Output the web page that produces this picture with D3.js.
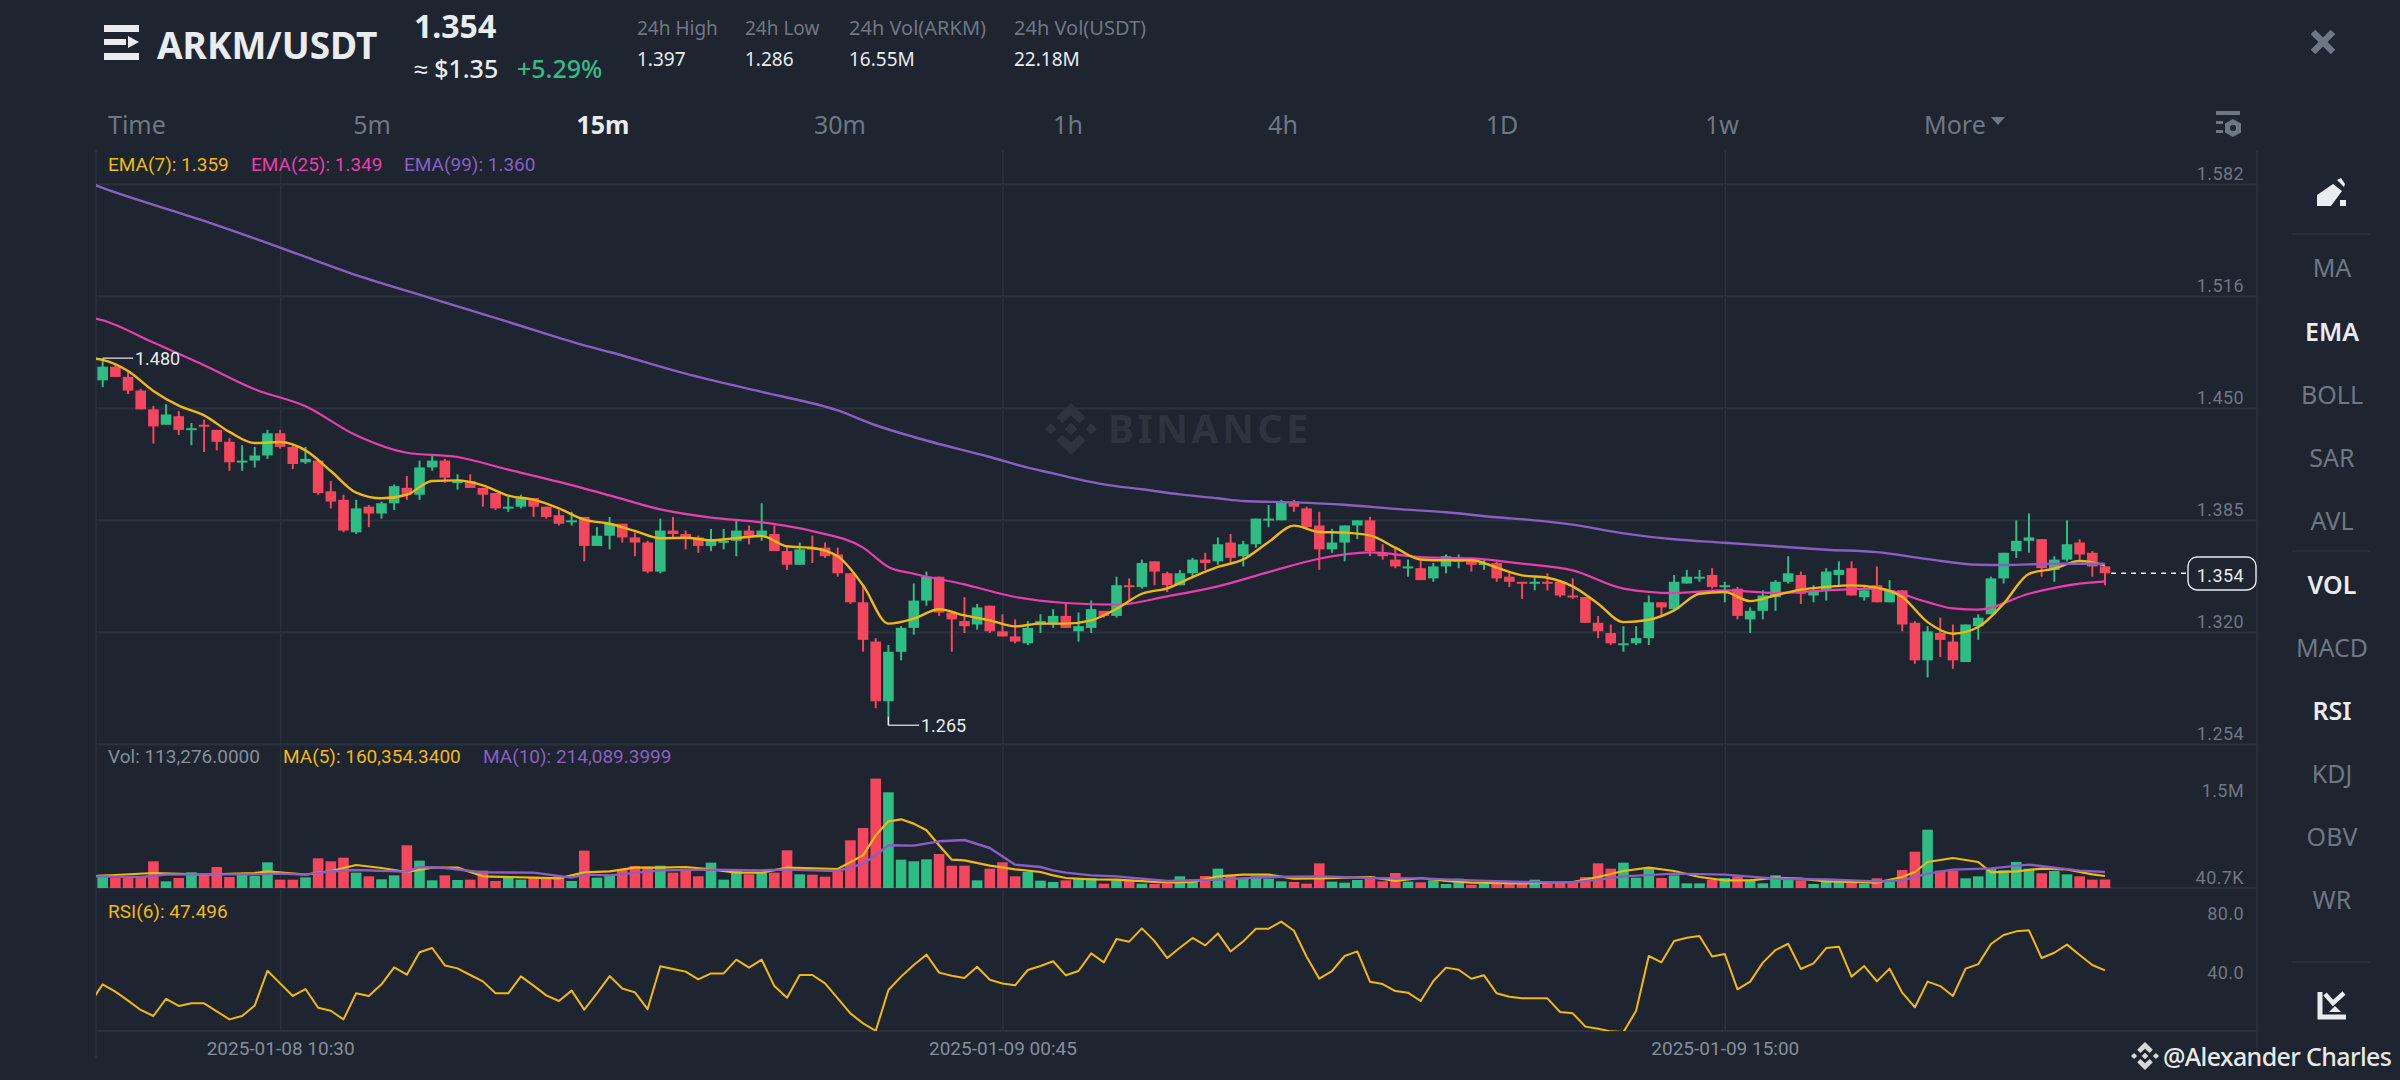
<!DOCTYPE html>
<html>
<head>
<meta charset="utf-8">
<title>ARKM/USDT</title>
<script src="https://cdn.jsdelivr.net/npm/d3@7"></script>
<style>
  body { margin: 0; background: #1E2530; }
  svg { display: block; }
  text { font-family: Roboto, sans-serif; }
  .ui { font-family: "Noto Sans", sans-serif; }
  .domain { display: none; }
</style>
</head>
<body>
<svg id="chart" width="2400" height="1080"></svg>
<script>
// candles, 15m (prices move in 0.001 steps)
const opens = [
  1.467,1.475,1.469,1.461,1.450,1.441,1.446,1.439,1.441,1.438,
  1.431,1.420,1.420,1.423,1.436,1.428,1.419,1.420,1.402,1.397,
  1.378,1.393,1.389,1.395,1.404,1.400,1.416,1.420,1.408,1.408,
  1.404,1.401,1.393,1.393,1.398,1.393,1.388,1.384,1.387,1.370,
  1.376,1.383,1.375,1.372,1.355,1.379,1.377,1.375,1.370,1.373,
  1.373,1.379,1.376,1.377,1.367,1.359,1.369,1.369,1.365,1.354,
  1.337,1.314,1.279,1.308,1.322,1.338,1.352,1.331,1.326,1.324,
  1.335,1.320,1.317,1.313,1.324,1.324,1.329,1.320,1.322,1.332,
  1.329,1.347,1.346,1.361,1.354,1.347,1.354,1.362,1.361,1.372,
  1.364,1.371,1.386,1.385,1.396,1.392,1.382,1.368,1.372,1.382,
  1.385,1.366,1.362,1.358,1.357,1.351,1.358,1.362,1.362,1.360,
  1.360,1.352,1.349,1.349,1.349,1.349,1.341,1.340,1.325,1.319,
  1.313,1.313,1.316,1.337,1.333,1.348,1.352,1.353,1.347,1.345,
  1.327,1.332,1.340,1.349,1.353,1.341,1.344,1.353,1.357,1.340,
  1.347,1.337,1.344,1.325,1.303,1.319,1.314,1.302,1.323,1.330,
  1.351,1.367,1.373,1.374,1.356,1.362,1.372,1.366,1.358
];
const highs = [
  1.480,1.476,1.472,1.462,1.452,1.453,1.449,1.442,1.444,1.438,
  1.433,1.429,1.428,1.438,1.438,1.429,1.428,1.420,1.408,1.400,
  1.397,1.394,1.396,1.406,1.411,1.420,1.423,1.421,1.412,1.412,
  1.404,1.401,1.399,1.400,1.398,1.393,1.391,1.390,1.387,1.381,
  1.387,1.383,1.378,1.373,1.386,1.387,1.379,1.376,1.380,1.380,
  1.385,1.382,1.395,1.382,1.370,1.372,1.376,1.372,1.369,1.354,
  1.347,1.316,1.312,1.323,1.348,1.355,1.352,1.331,1.340,1.336,
  1.335,1.330,1.327,1.326,1.330,1.333,1.336,1.331,1.338,1.332,
  1.352,1.351,1.362,1.361,1.355,1.356,1.363,1.366,1.375,1.377,
  1.373,1.386,1.394,1.397,1.397,1.393,1.390,1.380,1.382,1.385,
  1.387,1.371,1.369,1.362,1.362,1.360,1.365,1.365,1.362,1.362,
  1.361,1.354,1.349,1.352,1.354,1.349,1.351,1.340,1.329,1.324,
  1.323,1.323,1.341,1.337,1.353,1.356,1.356,1.357,1.349,1.346,
  1.334,1.344,1.350,1.364,1.355,1.347,1.357,1.361,1.361,1.347,
  1.358,1.350,1.344,1.326,1.323,1.328,1.324,1.324,1.330,1.352,
  1.366,1.385,1.389,1.374,1.364,1.385,1.374,1.367,1.358
];
const lows = [
  1.463,1.469,1.459,1.450,1.430,1.441,1.435,1.429,1.425,1.426,
  1.414,1.414,1.416,1.421,1.427,1.415,1.418,1.400,1.392,1.378,
  1.377,1.381,1.386,1.391,1.397,1.397,1.414,1.407,1.403,1.404,
  1.393,1.391,1.390,1.392,1.387,1.386,1.382,1.382,1.361,1.370,
  1.368,1.372,1.364,1.354,1.354,1.374,1.368,1.366,1.367,1.368,
  1.364,1.371,1.373,1.367,1.356,1.359,1.360,1.363,1.352,1.336,
  1.308,1.275,1.265,1.303,1.318,1.335,1.329,1.308,1.319,1.321,
  1.319,1.317,1.313,1.312,1.319,1.322,1.322,1.314,1.319,1.328,
  1.328,1.338,1.345,1.347,1.343,1.347,1.352,1.356,1.359,1.360,
  1.358,1.369,1.381,1.385,1.390,1.380,1.356,1.366,1.361,1.374,
  1.364,1.362,1.357,1.352,1.350,1.349,1.354,1.357,1.355,1.356,
  1.349,1.346,1.339,1.344,1.344,1.340,1.339,1.325,1.316,1.312,
  1.308,1.312,1.312,1.329,1.332,1.348,1.349,1.345,1.337,1.327,
  1.319,1.327,1.332,1.348,1.336,1.337,1.338,1.347,1.341,1.338,
  1.337,1.337,1.320,1.301,1.293,1.305,1.298,1.302,1.315,1.330,
  1.348,1.363,1.366,1.352,1.349,1.361,1.361,1.352,1.347
];
const closes = [
  1.475,1.469,1.461,1.450,1.440,1.447,1.438,1.439,1.440,1.431,
  1.419,1.420,1.423,1.436,1.428,1.418,1.421,1.401,1.396,1.379,
  1.392,1.389,1.395,1.405,1.400,1.416,1.420,1.410,1.408,1.404,
  1.400,1.392,1.393,1.398,1.393,1.387,1.383,1.385,1.370,1.376,
  1.383,1.375,1.372,1.355,1.379,1.377,1.375,1.370,1.373,1.373,
  1.379,1.376,1.379,1.367,1.359,1.368,1.368,1.364,1.354,1.337,
  1.315,1.279,1.308,1.322,1.338,1.352,1.331,1.327,1.323,1.334,
  1.320,1.317,1.314,1.322,1.326,1.329,1.322,1.323,1.333,1.329,
  1.347,1.346,1.360,1.355,1.347,1.354,1.362,1.360,1.371,1.363,
  1.371,1.386,1.386,1.396,1.393,1.381,1.368,1.372,1.382,1.385,
  1.367,1.364,1.358,1.358,1.350,1.358,1.364,1.362,1.359,1.360,
  1.351,1.349,1.348,1.349,1.348,1.341,1.340,1.325,1.320,1.313,
  1.313,1.316,1.337,1.334,1.349,1.352,1.352,1.346,1.347,1.329,
  1.332,1.341,1.349,1.354,1.342,1.343,1.355,1.356,1.341,1.344,
  1.337,1.344,1.324,1.303,1.320,1.315,1.303,1.324,1.328,1.351,
  1.366,1.373,1.375,1.357,1.362,1.371,1.365,1.358,1.354
];

const volumes = [
  178000,133500,133500,146850,356000,89000,133500,209150,169100,280350,
  146850,178000,160200,342650,111250,111250,142400,396050,356000,404950,
  204700,155750,115700,169100,569600,364900,102350,169100,106800,111250,
  231400,93450,133500,111250,146850,133500,160200,93450,498400,137950,
  169100,244750,293700,284800,298150,204700,258100,155750,338200,111250,
  226950,182450,204700,204700,502850,182450,178000,151300,222500,636350,
  801000,1459600,1277150,378250,356000,382700,453900,298150,298150,102350,
  258100,342650,155750,213600,97900,80100,102350,133500,133500,57850,
  111250,102350,57850,53400,53400,155750,80100,160200,258100,155750,
  124600,155750,124600,89000,80100,57850,329300,84550,71200,106800,
  155750,89000,200250,84550,75650,102350,53400,124600,44500,53400,
  66750,57850,57850,111250,53400,66750,66750,146850,329300,258100,
  338200,137950,258100,133500,169100,62300,62300,111250,133500,155750,
  111250,62300,169100,111250,102350,53400,102350,84550,66750,57850,
  129050,84550,240300,485050,778750,231400,231400,129050,155750,267000,
  235850,347100,258100,195800,226950,182450,155750,111250,113276
];

// EMA lines, read every other candle (-1 = just left of the first candle)
const ema7Index = [-1,0,2,4,6,8,10,12,14,16,18,20,22,24,26,28,30,32,34,36,38,40,42,44,46,48,50,52,54,56,58,60,62,64,66,68,70,72,74,76,78,80,82,84,86,88,90,92,94,96,98,100,102,104,106,108,110,112,114,116,118,120,122,124,126,128,130,132,134,136,138,140,142,144,146,148,150,152,154,156,158];
const ema7 = [1.480,1.479,1.4725,1.4608,1.4522,1.4465,1.4368,1.4303,1.4309,1.426,1.4139,1.4012,1.3979,1.400,1.408,1.4084,1.4055,1.3995,1.3971,1.392,1.3854,1.383,1.3788,1.3745,1.3748,1.3733,1.3746,1.3758,1.3698,1.3688,1.3639,1.3469,1.3245,1.3274,1.3329,1.3293,1.3264,1.3229,1.3245,1.3245,1.3264,1.3332,1.342,1.3452,1.3518,1.3577,1.3621,1.3723,1.3819,1.3782,1.3778,1.3762,1.369,1.3621,1.3616,1.3616,1.3573,1.3528,1.3514,1.3463,1.3362,1.3254,1.3268,1.3323,1.342,1.343,1.3377,1.3411,1.3444,1.346,1.3469,1.3455,1.3401,1.3254,1.3186,1.3225,1.3362,1.3537,1.3567,1.3612,1.3586];

const ema25Index = [-1,0,4,8,12,16,20,24,28,32,36,40,44,48,52,56,60,62,64,68,72,76,80,84,88,92,96,100,104,108,112,116,120,124,128,132,136,140,144,146,148,152,156,158];
const ema25 = [1.504,1.5022,1.4891,1.4758,1.4618,1.4518,1.4348,1.4246,1.4221,1.4147,1.4075,1.3996,1.3914,1.3866,1.3838,1.3787,1.369,1.3577,1.3537,1.3475,1.3401,1.3366,1.3356,1.3405,1.3463,1.3547,1.3625,1.3662,1.3635,1.3627,1.3596,1.3557,1.345,1.3424,1.344,1.3424,1.344,1.345,1.3371,1.3334,1.3327,1.342,1.3479,1.3493];

const ema99Index = [-1,0,8,14,20,26,32,38,40,46,52,58,61,64,70,73,75,77,79,82,85,88,90,94,98,102,106,110,113,116,120,124,128,132,136,140,144,148,150,154,158];
const ema99 = [1.5825,1.5797,1.5604,1.5448,1.5286,1.5149,1.5012,1.4875,1.4836,1.4709,1.4602,1.4494,1.4407,1.4338,1.4221,1.4159,1.4125,1.409,1.4061,1.4032,1.4002,1.3979,1.3963,1.3955,1.3941,1.3917,1.3897,1.3868,1.385,1.3825,1.3774,1.3739,1.3719,1.3698,1.3678,1.3664,1.3623,1.359,1.3588,1.3596,1.3596];

const volMa5Index = [-1,4,8,12,13,16,18,20,22,24,26,28,30,34,36,38,40,42,44,46,48,50,52,54,56,58,60,61,62,63,64,65,66,67,68,70,72,74,75,76,78,80,84,86,88,90,92,94,96,98,100,102,104,106,108,112,116,118,120,122,124,126,128,130,132,134,136,138,140,142,143,144,146,148,149,151,153,155,157,158];
const volMa5 = [155750,200250,178000,200250,222500,178000,226950,307050,267000,213600,271450,271450,155750,137950,129050,209150,222500,271450,271450,280350,249200,204700,204700,271450,262550,253650,436100,703100,890000,916700,858850,769850,569600,378250,369350,298150,249200,213600,169100,133500,115700,111250,71200,80100,155750,178000,178000,124600,129050,137950,146850,93450,133500,93450,71200,62300,80100,146850,226950,271450,226950,146850,102350,102350,137950,124600,89000,80100,71200,146850,213600,347100,400500,347100,209150,222500,258100,249200,182450,160354];

const volMa10Index = [-1,3,5,8,12,14,16,18,20,24,25,27,30,34,37,38,40,44,48,52,54,58,60,61,62,64,66,68,70,72,74,75,76,78,80,84,88,92,96,100,104,108,112,116,118,120,124,128,132,136,140,142,144,146,149,152,154,156,158];
const volMa10 = [155750,146850,178000,182450,182450,191350,178000,222500,240300,218050,280350,267000,209150,204700,137950,178000,169100,235850,244750,235850,244750,226950,324850,436100,569600,565150,623000,640800,534000,311500,280350,235850,204700,169100,155750,93450,111250,146850,155750,133500,129050,102350,80100,75650,111250,155750,191350,178000,124600,115700,89000,102350,191350,244750,262550,311500,271450,231400,214089];

const rsiIndex = d3.range(-1, 159);
const rsi6 = [
  25.2,38.1,33.1,27.0,20.7,16.6,28.3,23.4,25.2,25.2,19.8,14.3,16.6,23.8,47.3,38.7,30.2,34.9,22.2,20.2,
  14.3,32.0,30.2,38.1,49.6,44.6,59.8,62.7,50.9,48.9,44.4,40.1,32.0,32.0,43.5,37.2,30.6,26.8,33.8,20.9,
  32.0,43.7,35.3,32.6,21.3,50.3,48.5,46.7,41.5,45.5,45.5,54.8,49.4,54.8,36.9,29.0,44.4,44.4,38.7,28.6,
  18.4,11.6,6.6,34.2,43.3,51.2,58.2,46.0,43.9,42.4,50.0,41.2,38.7,37.4,47.8,50.5,53.7,44.2,47.1,59.1,
  53.0,68.8,67.0,76.0,67.4,55.9,62.9,69.5,64.5,72.6,60.4,67.2,75.8,75.8,80.6,74.4,56.8,41.9,47.1,57.3,
  60.4,39.9,38.3,33.5,32.4,26.8,40.3,49.4,48.0,41.9,44.2,32.0,29.7,28.6,28.6,28.6,19.3,18.4,9.4,8.0,
  6.2,5.7,20.2,57.3,53.0,67.4,69.7,70.8,57.0,58.6,34.7,39.9,52.8,61.3,65.6,48.5,52.3,62.7,63.6,43.3,
  50.5,40.1,48.7,32.4,22.5,39.9,36.9,30.2,48.7,51.8,65.4,71.5,74.0,74.7,55.9,59.5,65.0,58.0,51.2,47.5
];

// the chart rounds its tick labels, so grid values and labels are kept apart
const priceGrid = [1.582, 1.5164, 1.4508, 1.3852, 1.3196, 1.254];
const priceLabels = ["1.582", "1.516", "1.450", "1.385", "1.320", "1.254"];
const rsiTicks = [80, 40];
const timeTicks = [14, 71, 128];
const timeLabels = ["2025-01-08 10:30", "2025-01-09 00:45", "2025-01-09 15:00"];
const lastPrice = 1.354;
const periods = ["5m", "15m", "30m", "1h", "4h", "1D", "1w"];
const indicators = ["MA", "EMA", "BOLL", "SAR", "AVL", "VOL", "MACD", "RSI", "KDJ", "OBV", "WR"];
const activeIndicators = ["EMA", "VOL", "RSI"];

const green = "#2EBD85", red = "#F6465D", yellow = "#F0B90B", pink = "#E83EAE", purple = "#8A5FC4";
const grey = "#6E7785", greyLight = "#848E9C", white = "#EAECEF", gridColor = "#2B313C";

const svg = d3.select("#chart");

// panel geometry
const panelLeft = 96, panelRight = 2257, panelTop = 150, panelBottom = 1058;

const x = d3.scaleLinear().domain([0, 158]).range([102.7, 2105]);
const y = d3.scaleLinear().domain([1.254, 1.582]).range([744, 184]);
const yVol = d3.scaleLinear().domain([0, 1500000]).range([888, 775.6]);
const yRsi = d3.scaleLinear().domain([40, 80]).range([981.5, 922.5]);

// grid, labels come from the axes
const priceAxis = d3.axisRight(y).tickValues(priceGrid).tickSize(panelRight - panelLeft)
  .tickFormat((d, i) => priceLabels[i]);
const gPrice = svg.append("g").attr("transform", `translate(${panelLeft},0)`).call(priceAxis);
gPrice.selectAll("line").attr("stroke", gridColor).attr("stroke-width", 2);
gPrice.selectAll("text").attr("x", 2244 - panelLeft).attr("dy", -5).attr("text-anchor", "end")
  .attr("fill", grey).attr("font-size", 18).attr("letter-spacing", 0.4);

const timeAxis = d3.axisBottom(x).tickValues(timeTicks).tickSize(-(1031 - panelTop))
  .tickFormat((d, i) => timeLabels[i]);
const gTime = svg.append("g").attr("transform", "translate(0,1031)").call(timeAxis);
gTime.selectAll("line").attr("stroke", gridColor).attr("stroke-width", 1.5);
gTime.selectAll("text").attr("y", 24).attr("dy", 0).attr("fill", greyLight).attr("font-size", 19);

// panel frame
[888, 1031].forEach(v => {
  svg.append("line").attr("x1", panelLeft).attr("x2", panelRight).attr("y1", v).attr("y2", v)
    .attr("stroke", gridColor).attr("stroke-width", 2);
});
[panelLeft, panelRight].forEach(v => {
  svg.append("line").attr("x1", v).attr("x2", v).attr("y1", panelTop).attr("y2", panelBottom)
    .attr("stroke", gridColor).attr("stroke-width", 1.5);
});

// binance mark, used for the watermark and the footer tag
function drawMark(cx, cy, r, color) {
  const pieces = [
    [[0, -0.24], [0.24, 0], [0, 0.24], [-0.24, 0]],
    [[-0.78, -0.22], [-0.56, 0], [-0.78, 0.22], [-1, 0]],
    [[0.78, -0.22], [1, 0], [0.78, 0.22], [0.56, 0]],
    [[0, -1], [0.56, -0.44], [0.33, -0.22], [0, -0.52], [-0.33, -0.22], [-0.56, -0.44]],
    [[0, 1], [0.56, 0.44], [0.33, 0.22], [0, 0.52], [-0.33, 0.22], [-0.56, 0.44]]
  ];
  pieces.forEach(p => {
    svg.append("polygon").attr("fill", color)
      .attr("points", p.map(q => [cx + q[0] * r, cy + q[1] * r].join(",")).join(" "));
  });
}
drawMark(1071, 429, 26, "#2E343F");
svg.append("text").attr("x", 1108).attr("y", 443).attr("fill", "#2E343F").attr("font-size", 39)
  .attr("font-weight", 700).attr("textLength", 200).attr("class", "ui").text("BINANCE");

// candles
const candleWidth = 10.6;
const clipId = "panel-clip";
svg.append("clipPath").attr("id", clipId).append("rect")
  .attr("x", panelLeft).attr("y", panelTop).attr("width", panelRight - panelLeft).attr("height", 881);

const idx = d3.range(opens.length);
const candleColor = i => closes[i] >= opens[i] ? green : red;

svg.append("g").selectAll("line").data(idx).join("line")
  .attr("x1", i => x(i)).attr("x2", i => x(i))
  .attr("y1", i => y(highs[i])).attr("y2", i => y(lows[i]))
  .attr("stroke", candleColor).attr("stroke-width", 2);

svg.append("g").selectAll("rect").data(idx).join("rect")
  .attr("x", i => x(i) - candleWidth / 2).attr("width", candleWidth)
  .attr("y", i => y(Math.max(opens[i], closes[i])))
  .attr("height", i => Math.max(2, Math.abs(y(opens[i]) - y(closes[i]))))
  .attr("fill", candleColor);

// lines, the sparse ones get a monotone curve so they do not look faceted
function drawLine(index, values, scale, color, width, curve) {
  const line = d3.line().x((d, i) => x(index[i])).y(d => scale(d)).curve(curve || d3.curveLinear);
  svg.append("path").attr("d", line(values)).attr("fill", "none")
    .attr("stroke", color).attr("stroke-width", width).attr("stroke-linejoin", "round")
    .attr("clip-path", `url(#${clipId})`);
}
drawLine(ema25Index, ema25, y, pink, 2.2, d3.curveMonotoneX);
drawLine(ema7Index, ema7, y, yellow, 2.4, d3.curveMonotoneX);
drawLine(ema99Index, ema99, y, purple, 2.4, d3.curveMonotoneX);

// high and low tags
function priceTag(i, value, tx) {
  svg.append("line").attr("x1", x(i)).attr("x2", tx - 2).attr("y1", y(value)).attr("y2", y(value))
    .attr("stroke", white).attr("stroke-width", 1.2);
  svg.append("text").attr("x", tx).attr("y", y(value) + 7).attr("fill", white).attr("font-size", 18)
    .text(value.toFixed(3));
}
priceTag(0, 1.480, 135);
priceTag(62, 1.265, 921);
svg.append("line").attr("x1", x(62)).attr("x2", x(62)).attr("y1", y(1.27)).attr("y2", y(1.265))
  .attr("stroke", white).attr("stroke-width", 1.2);

// last price marker
svg.append("line").attr("x1", x(158) + 6).attr("x2", 2187).attr("y1", y(lastPrice)).attr("y2", y(lastPrice))
  .attr("stroke", white).attr("stroke-width", 1.4).attr("stroke-dasharray", "5 5");
svg.append("rect").attr("x", 2188).attr("y", 557).attr("width", 68).attr("height", 33).attr("rx", 9)
  .attr("fill", "#1E2530").attr("stroke", white).attr("stroke-width", 1.4);
svg.append("text").attr("x", 2244).attr("y", 582).attr("text-anchor", "end").attr("fill", white)
  .attr("font-size", 18).attr("letter-spacing", 0.4).text(lastPrice.toFixed(3));

// volume panel
svg.append("g").selectAll("rect").data(idx).join("rect")
  .attr("x", i => x(i) - candleWidth / 2).attr("width", candleWidth)
  .attr("y", i => yVol(volumes[i]))
  .attr("height", i => yVol(0) - yVol(volumes[i]))
  .attr("fill", candleColor);
drawLine(volMa5Index, volMa5, yVol, yellow, 2.2);
drawLine(volMa10Index, volMa10, yVol, purple, 2.4);

function axisLabel(label, ty) {
  svg.append("text").attr("x", 2244).attr("y", ty).attr("text-anchor", "end").attr("fill", grey)
    .attr("font-size", 18).attr("letter-spacing", 0.4).text(label);
}
axisLabel("1.5M", 797);
axisLabel("40.7K", 884);

// rsi panel
drawLine(rsiIndex, rsi6, yRsi, yellow, 2);
const gRsi = svg.append("g").attr("transform", `translate(${2244},0)`)
  .call(d3.axisLeft(yRsi).tickValues(rsiTicks).tickSize(0).tickPadding(0).tickFormat(d3.format(".1f")));
gRsi.selectAll("text").attr("dy", -3.5).attr("fill", grey).attr("font-size", 18).attr("letter-spacing", 0.4);

// legends
function legend(ty, items) {
  items.forEach(it => {
    svg.append("text").attr("x", it[0]).attr("y", ty).attr("fill", it[2]).attr("font-size", 19).text(it[1]);
  });
}
legend(171, [[108, "EMA(7): 1.359", yellow], [251, "EMA(25): 1.349", pink], [404, "EMA(99): 1.360", purple]]);
legend(763, [[108, "Vol: 113,276.0000", greyLight], [283, "MA(5): 160,354.3400", yellow], [483, "MA(10): 214,089.3999", purple]]);
legend(918, [[108, "RSI(6): 47.496", yellow]]);

// header
function headerText(tx, ty, label, size, color, weight) {
  svg.append("text").attr("class", "ui").attr("x", tx).attr("y", ty).attr("fill", color)
    .attr("font-size", size).attr("font-weight", weight || 400).text(label);
}
[[104, 25, 35, 7], [104, 53, 35, 7], [104, 39, 22, 6]].forEach(b => {
  svg.append("rect").attr("x", b[0]).attr("y", b[1]).attr("width", b[2]).attr("height", b[3]).attr("fill", white);
});
svg.append("polygon").attr("points", "128,36 139,42 128,48").attr("fill", white);
headerText(157, 59, "ARKM/USDT", 37, white, 700);
headerText(414, 38, "1.354", 32, white, 700);
headerText(414, 78, "≈ $1.35", 25, white, 500);
headerText(517, 78, "+5.29%", 25, green, 500);
[
  [637, "24h High", "1.397", 19],
  [745, "24h Low", "1.286", 19],
  [849, "24h Vol(ARKM)", "16.55M", 20],
  [1014, "24h Vol(USDT)", "22.18M", 20]
].forEach(s => {
  headerText(s[0], 35, s[1], s[3], grey);
  headerText(s[0], 66, s[2], 19, white);
});

// period row
const periodX = [372, 603, 840, 1068, 1283, 1502, 1722];
headerText(108, 134, "Time", 25, grey);
periods.forEach((p, i) => {
  svg.append("text").attr("class", "ui").attr("x", periodX[i]).attr("y", 134).attr("text-anchor", "middle")
    .attr("fill", p === "15m" ? white : grey).attr("font-size", 25).attr("font-weight", p === "15m" ? 700 : 400).text(p);
});
headerText(1924, 134, "More", 25, grey);
svg.append("polygon").attr("points", "1991,117 2005,117 1998,125").attr("fill", grey);

// settings icon
svg.append("rect").attr("x", 2216).attr("y", 111).attr("width", 24).attr("height", 4).attr("fill", grey);
svg.append("rect").attr("x", 2216).attr("y", 121).attr("width", 7).attr("height", 3).attr("fill", grey);
svg.append("rect").attr("x", 2216).attr("y", 130).attr("width", 7).attr("height", 3).attr("fill", grey);
svg.append("polygon").attr("points", "2233,119 2241,123.5 2241,132.5 2233,137 2225,132.5 2225,123.5").attr("fill", grey);
svg.append("circle").attr("cx", 2233).attr("cy", 128).attr("r", 3).attr("fill", "#1E2530");

// close
svg.append("path").attr("d", "M2313,32L2333,52M2333,32L2313,52").attr("stroke", grey).attr("stroke-width", 6.5);

// side menu
const indicatorY = [268, 332, 395, 458, 521, 585, 648, 711, 774, 837, 900];
indicators.forEach((d, i) => {
  const on = activeIndicators.includes(d);
  svg.append("text").attr("class", "ui").attr("x", 2332).attr("y", indicatorY[i] + 9).attr("text-anchor", "middle")
    .attr("fill", on ? white : grey).attr("font-size", 25).attr("font-weight", on ? 600 : 400).text(d);
});
[234, 551, 962].forEach(v => {
  svg.append("line").attr("x1", 2292).attr("x2", 2370).attr("y1", v).attr("y2", v)
    .attr("stroke", gridColor).attr("stroke-width", 1.5);
});
// pencil
svg.append("polygon").attr("points", "2317,206 2317,195 2333,184 2342,191 2331,206").attr("fill", white);
svg.append("polygon").attr("points", "2337,180 2341,178 2345,184 2344,187").attr("fill", white);
svg.append("rect").attr("x", 2340).attr("y", 200).attr("width", 6).attr("height", 6).attr("fill", white);
// chart icon
svg.append("path").attr("d", "M2320,992V1017H2346").attr("fill", "none").attr("stroke", white).attr("stroke-width", 5);
svg.append("path").attr("d", "M2325,994L2333,1003L2344,993").attr("fill", "none").attr("stroke", white).attr("stroke-width", 4.5);
svg.append("polygon").attr("points", "2335,1006 2341,1012 2329,1012").attr("fill", white);

// footer tag
drawMark(2145, 1056, 14, "#D8D8D8");
svg.append("text").attr("class", "ui").attr("x", 2163).attr("y", 1066).attr("fill", "#E8E8E8")
  .attr("font-size", 25).attr("font-weight", 500).attr("textLength", 229).text("@Alexander Charles");
</script>
</body>
</html>
